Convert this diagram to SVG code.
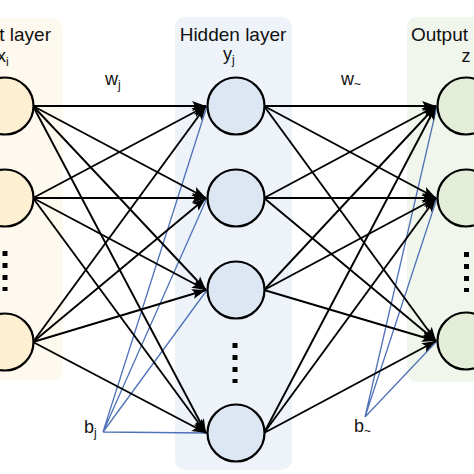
<svg xmlns="http://www.w3.org/2000/svg" width="474" height="474" viewBox="0 0 474 474">
<style>
text{font-family:"Liberation Sans",Arial,sans-serif;fill:#111}
.title{font-size:19px}
.var{font-size:18px}
.sub{font-size:12px}
.node{stroke:#000;stroke-width:2.2}
.in{fill:#fdf0d2}
.hid{fill:#dde7f3}
.out{fill:#e3edd8}
.w{stroke:#000;stroke-width:1.9;fill:none;marker-end:url(#arr)}
.b{stroke:#4f72b8;stroke-width:1.3;fill:none}
.dots{stroke:#000;stroke-width:5;stroke-dasharray:5 7}
</style>
<defs>
<marker id="arr" markerUnits="userSpaceOnUse" markerWidth="15" markerHeight="12" refX="14" refY="5" orient="auto" viewBox="0 0 15 10">
<path d="M0,0 L14,5 L0,10 L3,5 z" fill="#000"/>
</marker>
</defs>
<rect width="474" height="474" fill="#fff"/>
<g id="layer-input">
<rect x="-20" y="18" width="83" height="362" rx="10" fill="#fef9ee"/>
<text class="title" x="51" y="41" text-anchor="end">Input layer</text>
<text class="var" x="-3" y="62">x<tspan class="sub" dy="4">i</tspan></text>
</g>
<g id="layer-hidden">
<rect x="175" y="17" width="117" height="453" rx="10" fill="#eef3f9"/>
<text class="title" x="233" y="41" text-anchor="middle">Hidden layer</text>
<text class="var" x="223" y="60">y<tspan class="sub" dy="4">j</tspan></text>
</g>
<g id="layer-output">
<rect x="407" y="17" width="87" height="365" rx="10" fill="#f1f6ec"/>
<text class="title" x="411" y="41">Output</text>
<text class="var" x="466" y="62" text-anchor="middle">z</text>
</g>
<g id="connectors">
<path class="b" d="M103,432 L207,106 M103,432 L207,198 M103,432 L207,290 M103,432 L207,433"/>
<path class="b" d="M365,417 L437,106 M365,417 L437,198 M365,417 L437,341"/>
<path class="w" d="M33,106 L206,106"/>
<path class="w" d="M33,106 L206,198"/>
<path class="w" d="M33,106 L206,290"/>
<path class="w" d="M33,106 L206,433"/>
<path class="w" d="M33,198 L206,106"/>
<path class="w" d="M33,198 L206,198"/>
<path class="w" d="M33,198 L206,290"/>
<path class="w" d="M33,198 L206,433"/>
<path class="w" d="M33,342 L206,106"/>
<path class="w" d="M33,342 L206,198"/>
<path class="w" d="M33,342 L206,290"/>
<path class="w" d="M33,342 L206,433"/>
<path class="w" d="M264,106 L436,106"/>
<path class="w" d="M264,106 L436,198"/>
<path class="w" d="M264,106 L436,341"/>
<path class="w" d="M264,198 L436,106"/>
<path class="w" d="M264,198 L436,198"/>
<path class="w" d="M264,198 L436,341"/>
<path class="w" d="M264,290 L436,106"/>
<path class="w" d="M264,290 L436,198"/>
<path class="w" d="M264,290 L436,341"/>
<path class="w" d="M264,433 L436,106"/>
<path class="w" d="M264,433 L436,198"/>
<path class="w" d="M264,433 L436,341"/>
<text class="var" x="105" y="85">w<tspan class="sub" dy="4">j</tspan></text>
<text class="var" x="341" y="85">w<tspan class="sub" dy="3">~</tspan></text>
<text class="var" x="84" y="433">b<tspan class="sub" dy="4">j</tspan></text>
<text class="var" x="354" y="432">b<tspan class="sub" dy="3">~</tspan></text>
</g>
<g id="input-1"><circle class="node in" cx="5" cy="106" r="28.5"/></g>
<g id="input-2"><circle class="node in" cx="5" cy="198" r="28.5"/></g>
<g id="input-dots"><line class="dots" x1="5" y1="251" x2="5" y2="291"/></g>
<g id="input-n"><circle class="node in" cx="5" cy="342" r="28.5"/></g>
<g id="hidden-1"><circle class="node hid" cx="236" cy="106" r="28.5"/></g>
<g id="hidden-2"><circle class="node hid" cx="236" cy="198" r="28.5"/></g>
<g id="hidden-3"><circle class="node hid" cx="236" cy="290" r="28.5"/></g>
<g id="hidden-dots"><line class="dots" x1="235" y1="343" x2="235" y2="383"/></g>
<g id="hidden-n"><circle class="node hid" cx="236" cy="433" r="28.5"/></g>
<g id="output-1"><circle class="node out" cx="466" cy="106" r="28.5"/></g>
<g id="output-2"><circle class="node out" cx="466" cy="198" r="28.5"/></g>
<g id="output-dots"><line class="dots" x1="466.5" y1="252" x2="466.5" y2="292"/></g>
<g id="output-n"><circle class="node out" cx="466" cy="341" r="28.5"/></g>
</svg>
